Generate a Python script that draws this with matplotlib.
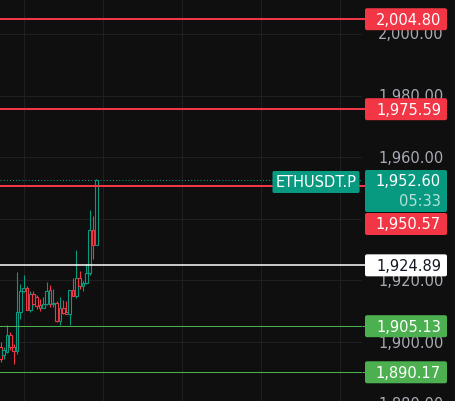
import matplotlib
matplotlib.use("Agg")
import matplotlib.pyplot as plt
from matplotlib.patches import FancyBboxPatch
import numpy as np

# candle data (oldest first)
opens = [1898.5, 1895.7, 1896.7, 1902.4, 1898.4, 1897.0, 1909.9, 1916.7, 1917.5, 1910.3,
         1915.6, 1914.5, 1912.1, 1911.0, 1912.4, 1916.9, 1912.4, 1912.6, 1906.7, 1911.0,
         1909.9, 1909.0, 1916.9, 1914.8, 1920.7, 1918.1, 1919.1, 1922.3, 1936.3, 1931.6]
highs = [1900.0, 1898.4, 1905.4, 1903.2, 1899.5, 1922.8, 1918.9, 1921.8, 1918.1, 1916.7,
         1916.7, 1915.1, 1914.0, 1914.5, 1919.4, 1918.5, 1917.3, 1913.2, 1914.5, 1913.7,
         1913.3, 1916.9, 1920.7, 1929.9, 1923.2, 1919.7, 1925.3, 1942.8, 1941.0, 1952.85]
lows = [1893.5, 1894.4, 1896.5, 1897.3, 1893.0, 1896.2, 1907.5, 1916.2, 1910.3, 1909.7,
        1911.9, 1910.8, 1910.2, 1911.0, 1911.9, 1911.3, 1911.3, 1906.5, 1905.4, 1909.2,
        1909.0, 1905.4, 1914.9, 1914.4, 1917.3, 1916.4, 1918.9, 1921.6, 1927.0, 1931.6]
closes = [1894.6, 1897.3, 1902.4, 1898.4, 1897.0, 1909.9, 1916.7, 1917.5, 1910.3, 1915.6,
          1912.4, 1911.6, 1911.0, 1912.4, 1916.7, 1912.4, 1912.6, 1906.7, 1911.0, 1909.5,
          1909.0, 1916.9, 1914.9, 1920.7, 1918.1, 1919.1, 1922.3, 1936.3, 1931.6, 1952.60]

symbol = "ETHUSDT.P"
last_price = 1952.60
countdown = "05:33"

level_prices = [2004.80, 1975.59, 1950.57, 1924.89, 1905.13, 1890.17]
level_kinds = ["red", "red", "red", "white", "green", "green"]

tick_values = [1880, 1900, 1920, 1940, 1960, 1980, 2000]

BG = "#0f0f0f"
GRID = "#1f1f1f"
UP = "#089981"
DOWN = "#f23645"
FS = 10.5
styles = {
    "red": dict(line=DOWN, lw=1.45, box=DOWN, text="white"),
    "white": dict(line="#ffffff", lw=1.1, box="#ffffff", text="#131722"),
    "green": dict(line="#4caf50", lw=0.75, box="#4caf50", text="white"),
}

plt.rcParams["font.family"] = ["DejaVu Sans"]

W, H = 456, 402
plot_w = 362
y_top = 2000 + 35 / 3.08
y_bot = 2000 - 367 / 3.08
upp = (y_top - y_bot) / H  # price units per pixel

fig = plt.figure(figsize=(W / 100, H / 100), dpi=100, facecolor=BG)
ax = fig.add_axes([0, 0, plot_w / W, 1])
ax2 = fig.add_axes([plot_w / W, 0, (W - plot_w) / W, 1], sharey=ax)
for a in (ax, ax2):
    a.set_facecolor(BG)
    for s in a.spines.values():
        s.set_visible(False)
    a.tick_params(left=False, bottom=False, labelleft=False, labelbottom=False)

ax.set_ylim(y_bot, y_top)
px = 3.3
ax.set_xlim(-0.5 / px, -0.5 / px + plot_w / px)
ax2.set_xlim(0, W - plot_w)

# grid
for t in tick_values:
    ax.axhline(t, color=GRID, lw=0.75, zorder=0)
for gx in [7, 31, 55, 79, 103]:
    ax.axvline(gx, color=GRID, lw=0.75, zorder=0)

# candles (hollow)
x = np.arange(len(opens))
o = np.array(opens)
c = np.array(closes)
cols = [UP if cc >= oo else DOWN for oo, cc in zip(o, c)]
ax.vlines(x, lows, highs, colors=cols, lw=0.8, zorder=2)
ax.bar(x, np.maximum(np.abs(c - o), 0.2), bottom=np.minimum(o, c), width=0.8,
       facecolor=BG, edgecolor=cols, linewidth=0.8, zorder=3)

# levels
for p, k in zip(level_prices, level_kinds):
    st = styles[k]
    ax.axhline(p, color=st["line"], lw=st["lw"], zorder=4)
    ax2.hlines(p, 0, 3, color=st["line"], lw=st["lw"], zorder=4)
ax.axhline(last_price, color=UP, lw=0.75, ls=(0, (1, 2)), zorder=4)

# symbol tag on the plot
sym_c = last_price - 2 * upp
ax.add_patch(FancyBboxPatch((272 / px, sym_c - 11 * upp), 87 / px, 22 * upp,
                            boxstyle="round,pad=0,rounding_size=0.5",
                            fc=UP, ec="none", zorder=6, mutation_aspect=upp * px))
ax.text((272 + 43.5) / px, sym_c, symbol, color="white", fontsize=FS,
        ha="center", va="center", zorder=7)


def scale_box(center, height, color, zorder=5):
    ax2.add_patch(FancyBboxPatch((3, center - height / 2 * upp), 82, height * upp,
                                 boxstyle="round,pad=0,rounding_size=2",
                                 fc=color, ec="none", zorder=zorder,
                                 mutation_aspect=upp))


# last price box with countdown
lp_top = last_price + 10 * upp
scale_box(lp_top - 21 * upp, 42, UP)
ax2.text(79, last_price - 0.5 * upp, f"{last_price:,.2f}", color="white",
         fontsize=FS, ha="right", va="center", zorder=7)
ax2.text(79, last_price - 20.5 * upp, countdown, color="#b4e3d8",
         fontsize=FS, ha="right", va="center", zorder=7)

box_centers = []
for p, k in zip(level_prices, level_kinds):
    st = styles[k]
    yc = p
    if abs(p - last_price) < 25 * upp:
        yc = lp_top - 43 * upp - 11 * upp
    box_centers.append(yc)
    scale_box(yc, 22, st["box"])
    ax2.text(79, yc, f"{p:,.2f}", color=st["text"], fontsize=FS,
             ha="right", va="center", zorder=7)

# price scale tick labels (ones fully under a label box are hidden)
for t in tick_values:
    if any(abs(t - yc) < 9 * upp for yc in box_centers):
        continue
    ax2.text(81.5, t, f"{t:,.2f}", color="#a8abb3", fontsize=FS, ha="right",
             va="center", zorder=1)

fig.savefig("out.png", dpi=100, facecolor=BG)
